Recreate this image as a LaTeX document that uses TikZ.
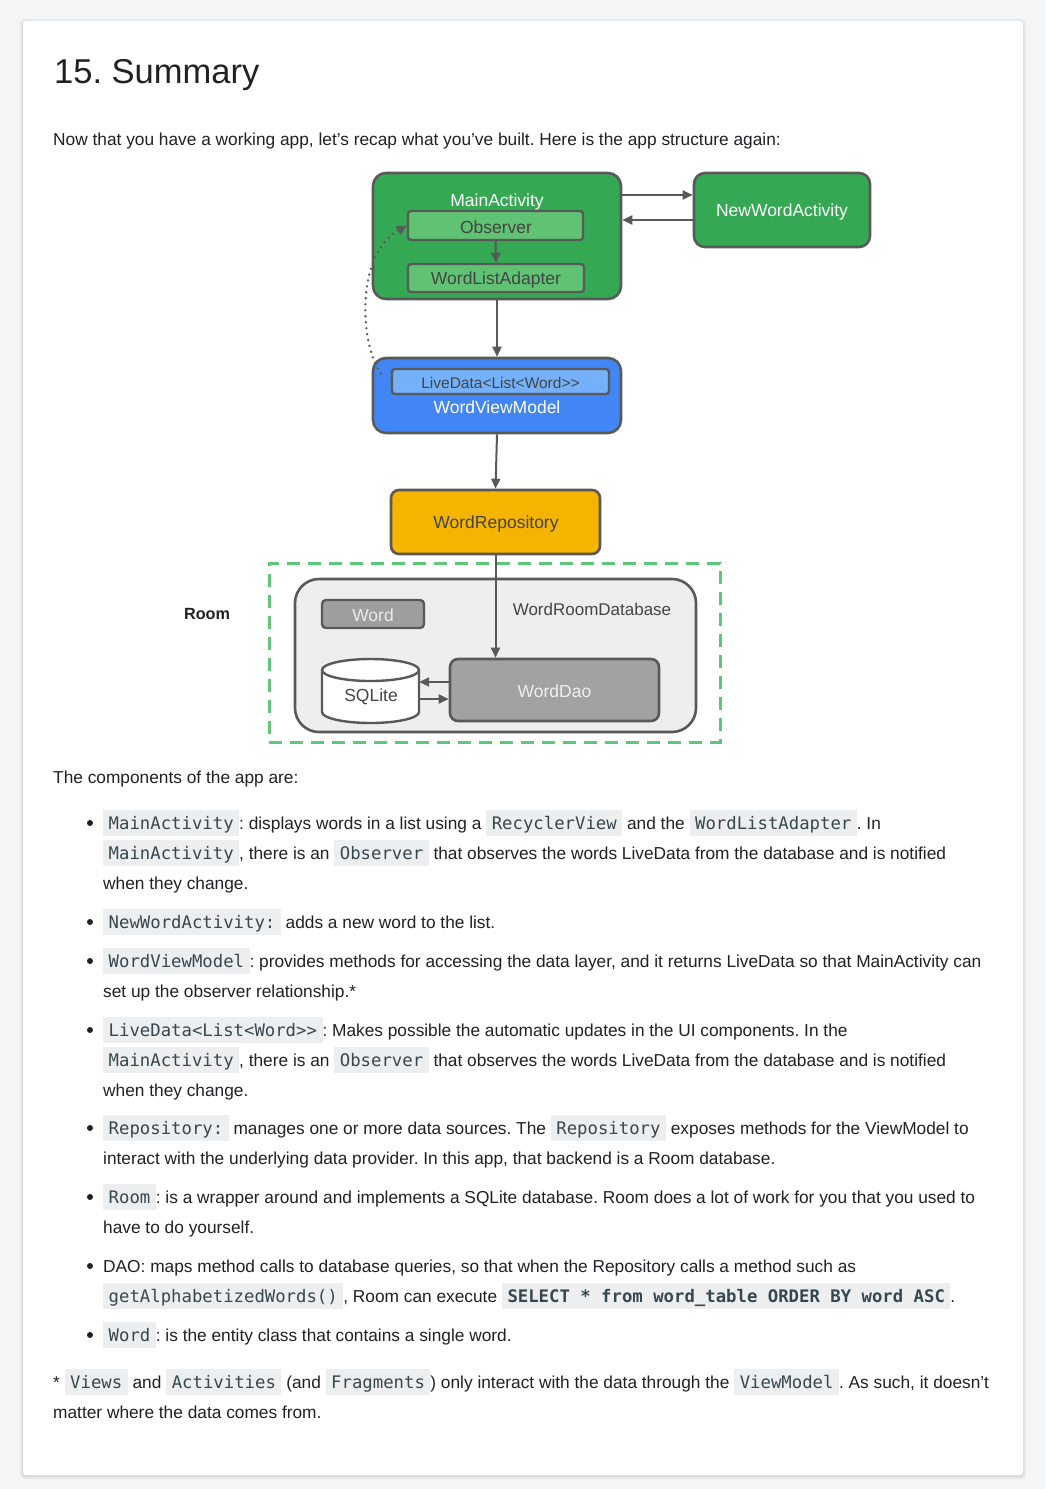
\documentclass[tikz,border=0pt]{standalone}
\usepackage{fontspec}
\setmainfont{Liberation Sans}
\newfontfamily\monofont{DejaVu Sans Mono}
\usetikzlibrary{arrows.meta}
\frenchspacing
\definecolor{pagebg}{HTML}{F4F5F7}
\definecolor{bodyfg}{HTML}{202124}
\definecolor{codebg}{HTML}{EDEEF0}
\definecolor{codefg}{HTML}{37474F}
\definecolor{edgec}{HTML}{595959}
\definecolor{gmain}{HTML}{34A853}
\definecolor{glight}{HTML}{60C373}
\definecolor{bmain}{HTML}{4285F4}
\definecolor{blight}{HTML}{74B1FA}
\definecolor{ymain}{HTML}{F4B400}
\definecolor{dbgray}{HTML}{EEEEEE}
\definecolor{wordgray}{HTML}{9E9E9E}
\definecolor{daogray}{HTML}{A2A2A2}
\definecolor{roomgreen}{HTML}{5EC879}
\definecolor{darktext}{HTML}{444444}
\newcommand\code[1]{{\setlength{\fboxsep}{0pt}\colorbox{codebg}{\rule[-7pt]{0pt}{26pt}\hspace{5.5pt}{\monofont\fontsize{17.3}{20}\selectfont\color{codefg}#1}\hspace{5.5pt}}}}
\tikzset{
  diagbox/.style={draw=edgec, line width=2.6pt, rounded corners=13pt, inner sep=0pt},
  innerbox/.style={draw=edgec, line width=2.4pt, rounded corners=3pt, inner sep=0pt},
  arr/.style={draw=edgec, line width=2pt, -{Triangle[length=10pt,width=9pt]}},
  dtxt/.style={font=\fontsize{17.5}{20}\selectfont, inner sep=0pt},
  txt/.style={anchor=base west, inner sep=0pt, font=\fontsize{17.3}{21}\selectfont, text=bodyfg},
  bul/.style={circle, fill=bodyfg, inner sep=0pt, minimum size=6pt},
}
\begin{document}
\begin{tikzpicture}[x=1pt,y=-1pt]
\path[use as bounding box, fill=pagebg] (0,0) rectangle (1045,1489);
% card
\fill[black, opacity=0.05, rounded corners=5pt] (20,19) rectangle (1026,1479);
\fill[black, opacity=0.06, rounded corners=4pt] (22,21) rectangle (1024,1477);
\fill[white, rounded corners=3pt] (23,21) rectangle (1023,1475);

% title and intro
\node[anchor=base west, inner sep=0pt, font=\fontsize{34.5}{40}\selectfont, text=bodyfg] (title) at (54,83) {15. Summary};
\node[txt] (intro) at (53,145) {Now that you have a working app, let's recap what you've built. Here is the app structure again:};

% ---------- diagram ----------
\node[diagbox, fill=gmain, minimum width=248pt, minimum height=126pt] (main) at (497,236) {};
\node[dtxt, text=white] (mainlbl) at (497,201.5) {MainActivity};
\node[innerbox, fill=glight, minimum width=175pt, minimum height=29pt] (obs) at (495.5,225.5) {};
\node[dtxt, text=darktext] (obslbl) at (496,227) {Observer};
\node[innerbox, fill=glight, minimum width=176pt, minimum height=28pt] (wla) at (496,278) {};
\node[dtxt, text=darktext] (wlalbl) at (496,279.5) {WordListAdapter};
\node[diagbox, rounded corners=11pt, fill=gmain, minimum width=176pt, minimum height=74pt] (nwa) at (782,210) {};
\node[dtxt, text=white] (nwalbl) at (782,211.5) {NewWordActivity};

\node[diagbox, fill=bmain, minimum width=248pt, minimum height=75pt] (wvm) at (497,395.5) {};
\node[innerbox, fill=blight, minimum width=217pt, minimum height=25pt] (live) at (500.5,381.5) {};
\node[font=\fontsize{15.5}{18}\selectfont, text=darktext, inner sep=0pt] (livelbl) at (500.5,383) {LiveData<List<Word>{}>};
\node[dtxt, text=white] (wvmlbl) at (497,407.5) {WordViewModel};

\node[diagbox, rounded corners=8pt, fill=ymain, minimum width=209pt, minimum height=64pt] (repo) at (495.5,522) {};
\node[dtxt, text=darktext] (repolbl) at (496,524) {WordRepository};

\node[draw=roomgreen, line width=3pt, dash pattern=on 13pt off 8pt, minimum width=451pt, minimum height=179pt, inner sep=0pt] (roomarea) at (494.5,652.5) {};
\node[font=\bfseries\fontsize{16.2}{19}\selectfont, text=bodyfg, inner sep=0pt] (roomlbl) at (207,614) {Room};
\node[diagbox, rounded corners=24pt, fill=dbgray, minimum width=401pt, minimum height=153pt] (db) at (495.5,655.5) {};
\node[font=\fontsize{17}{20}\selectfont, text=darktext, inner sep=0pt] (dblbl) at (592,609.5) {WordRoomDatabase};
\node[innerbox, rounded corners=4pt, fill=wordgray, minimum width=102pt, minimum height=28pt] (word) at (373,614) {};
\node[dtxt, text=white!92!black] (wordlbl) at (373,615.5) {Word};
\node[diagbox, rounded corners=8pt, fill=daogray, minimum width=209pt, minimum height=62pt] (dao) at (554.5,690) {};
\node[dtxt, text=white!94!black] (daolbl) at (554.5,691.5) {WordDao};

% SQLite cylinder
\filldraw[draw=edgec, fill=white, line width=2.4pt] (322,670) -- (322,712) arc[start angle=180, end angle=360, x radius=48.5pt, y radius=11pt] -- (419,670) arc[start angle=0, end angle=180, x radius=48.5pt, y radius=11pt] -- cycle;
\draw[draw=edgec, line width=2.4pt] (322,670) arc[start angle=180, end angle=360, x radius=48.5pt, y radius=11pt];
\node[minimum width=97pt, minimum height=64pt, inner sep=0pt] (sqlite) at (370.5,691) {};
\node[dtxt, text=darktext] (sqlitelbl) at (371,697) {SQLite};

% connectors
\draw[arr] (obs.south) -- (wla.north);
\draw[arr] ([yshift=41pt]main.east) -- ([yshift=15pt]nwa.west);
\draw[arr] ([yshift=-10pt]nwa.west) -- ([yshift=16pt]main.east);
\draw[arr] (main.south) -- (wvm.north);
\draw[arr] (wvm.south) -- (repo.north);
\draw[arr] (repo.south) -- (repo.south |- dao.north);
\draw[arr] ([yshift=8pt]dao.west) -- ([yshift=8pt]dao.west -| sqlite.east);
\draw[arr] ([yshift=-9pt]dao.west -| sqlite.east) -- ([yshift=-9pt]dao.west);
\draw[edgec, line width=2.6pt, line cap=round, dash pattern=on 0pt off 6pt, -{Triangle[length=10pt,width=9pt]}] ([xshift=-10pt,yshift=8pt]live.west) .. controls (360,345) and (355,255) .. (obs.west);

% ---------- text ----------
\node[txt] (comp) at (53,783) {The components of the app are:};

\node[bul] (b1) at (90,823) {};
\node[txt] (l1) at (103,829) {\code{MainActivity}: displays words in a list using a \code{RecyclerView} and the \code{WordListAdapter}. In};
\node[txt] (l2) at (103,859) {\code{MainActivity}, there is an \code{Observer} that observes the words LiveData from the database and is notified};
\node[txt] (l3) at (103,889) {when they change.};

\node[bul] (b2) at (90,922) {};
\node[txt] (l4) at (103,928) {\code{NewWordActivity:} adds a new word to the list.};

\node[bul] (b3) at (90,961) {};
\node[txt] (l5) at (103,967) {\code{WordViewModel}: provides methods for accessing the data layer, and it returns LiveData so that MainActivity can};
\node[txt] (l6) at (103,997) {set up the observer relationship.*};

\node[bul] (b4) at (90,1030) {};
\node[txt] (l7) at (103,1036) {\code{LiveData<List<Word>{}>}: Makes possible the automatic updates in the UI components. In the};
\node[txt] (l8) at (103,1066) {\code{MainActivity}, there is an \code{Observer} that observes the words LiveData from the database and is notified};
\node[txt] (l9) at (103,1096) {when they change.};

\node[bul] (b5) at (90,1128) {};
\node[txt] (l10) at (103,1134) {\code{Repository:} manages one or more data sources. The \code{Repository} exposes methods for the ViewModel to};
\node[txt] (l11) at (103,1164) {interact with the underlying data provider. In this app, that backend is a Room database.};

\node[bul] (b6) at (90,1197) {};
\node[txt] (l12) at (103,1203) {\code{Room}: is a wrapper around and implements a SQLite database. Room does a lot of work for you that you used to};
\node[txt] (l13) at (103,1233) {have to do yourself.};

\node[bul] (b7) at (90,1266) {};
\node[txt] (l14) at (103,1272) {DAO: maps method calls to database queries, so that when the Repository calls a method such as};
\node[txt] (l15) at (103,1302) {\code{getAlphabetizedWords()}, Room can execute \code{\bfseries SELECT * from word\_table ORDER BY word ASC}.};

\node[bul] (b8) at (90,1335) {};
\node[txt] (l16) at (103,1341) {\code{Word}: is the entity class that contains a single word.};

\node[txt] (l17) at (53,1388) {* \code{Views} and \code{Activities} (and \code{Fragments}) only interact with the data through the \code{ViewModel}. As such, it doesn't};
\node[txt] (l18) at (53,1418) {matter where the data comes from.};
\end{tikzpicture}
\end{document}
